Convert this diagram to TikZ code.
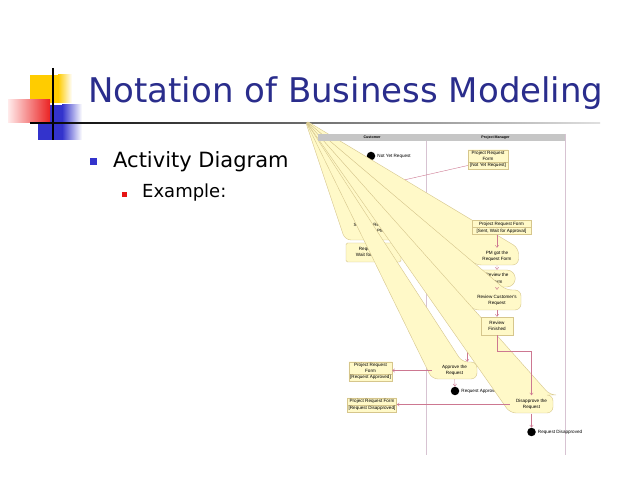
\documentclass[tikz,border=0pt]{standalone}
\usepackage{fontspec}
\setmainfont{DejaVu Sans}
\newfontfamily\umlfont{Liberation Sans}
\usetikzlibrary{arrows.meta,positioning,shapes.multipart,shapes.misc}

\definecolor{titleblue}{RGB}{42,45,140}
\definecolor{bulletblue}{RGB}{51,51,204}
\definecolor{bulletred}{RGB}{230,20,20}
\definecolor{decoyellow}{RGB}{255,204,0}
\definecolor{decored}{RGB}{235,35,35}
\definecolor{decoblue}{RGB}{51,51,204}
\definecolor{notefill}{RGB}{255,249,200}
\definecolor{noteline}{RGB}{214,198,140}
\definecolor{flowpink}{RGB}{205,120,145}
\definecolor{lanegray}{RGB}{215,195,210}

\begin{document}
\begin{tikzpicture}[x=1pt, y=-1pt,
    wedge/.style={fill=notefill, draw=noteline, line width=0.4pt, rounded corners=6pt},
    act/.style={inner sep=0pt, minimum height=17pt, font=\umlfont\fontsize{4.6}{6.3}\selectfont, align=center},
    actbox/.style={act, draw=noteline, fill=notefill, line width=0.4pt, rounded rectangle, rounded rectangle left arc=none},
    obj/.style={draw=noteline, fill=notefill, line width=0.4pt, inner sep=1.2pt, font=\umlfont\fontsize{4.6}{6.3}\selectfont, align=center},
    objsplit/.style={obj, rectangle split, rectangle split parts=2},
    startdot/.style={circle, fill=black, minimum size=8.5pt, inner sep=0pt},
    lbl/.style={inner sep=0.8pt, font=\umlfont\fontsize{4.6}{6}\selectfont},
    flow/.style={draw=flowpink, line width=0.4pt, -{Straight Barb[length=2.2pt,width=3.4pt]}},
    link/.style={draw=flowpink, line width=0.4pt},
    lane/.style={draw=lanegray, line width=0.6pt},
    lanehead/.style={fill=gray!45, minimum height=7pt, inner sep=0pt, font=\umlfont\bfseries\fontsize{3.6}{4}\selectfont}
]
\useasboundingbox[fill=white] (0,0) rectangle (638,478);

% title decoration
\fill[decoyellow] (30,75) rectangle (58,103);
\shade[left color=decoyellow, right color=white] (58,75) rectangle (72,103);
\fill[decoblue] (38,105) rectangle (62,140);
\shade[left color=decoblue, right color=white] (62,105) rectangle (82,140);
\shade[left color=red!8, right color=decored] (8,100) rectangle (50,123);
\draw[line width=1.3pt] (53,68) -- (53,140);
\shade[left color=black, right color=gray!25] (30,122.3) rectangle (600,123.8);

% title and bullets
\node[anchor=base west, inner sep=0pt, text=titleblue, font=\fontsize{34}{40}\selectfont] (title) at (88,103) {Notation of Business Modeling};
\node[fill=bulletblue, minimum size=7pt, inner sep=0pt] (bulletone) at (93.5,161.5) {};
\node[anchor=base west, inner sep=0pt, font=\fontsize{21}{25}\selectfont] (itemone) at (113,168) {Activity Diagram};
\node[fill=bulletred, minimum size=5pt, inner sep=0pt] (bullettwo) at (124.5,194.5) {};
\node[anchor=base west, inner sep=0pt, font=\fontsize{18}{22}\selectfont] (itemtwo) at (142,198) {Example:};

% swimlanes
\draw[lane] (426,141) -- (426,455);
\draw[lane] (565,134) -- (565,455);
\coordinate (apex) at (305,120);

% start
\node[startdot] (start) at (371,156) {};
\node[lbl, right=1pt of start] (startlbl) {Not Yet Request};
\node[objsplit, minimum width=40pt] (objnyr) at (488,159.5) {Project Request\\Form \nodepart{two} [Not Yet Request]};
\coordinate (nyrend) at (360,190);
\draw[link] ([yshift=-6pt]objnyr.west) -- (nyrend);

% customer
\filldraw[wedge] (apex) -- (410,216) -- (410,240) -- (345,240) -- cycle;
\node[act, minimum width=65pt, minimum height=24pt] (send) at (372,228) {Send the Request\\Form to PM};
\node[obj, minimum width=55pt, minimum height=19pt, rounded corners=1.5pt] (reqwait) at (373.5,252.5) {Request Sent,\\Wait for Approval};

% project manager
\filldraw[wedge] (apex) -- (518.5,248) -- (518.5,265) -- (475.5,265) -- cycle;
\node[act, minimum width=43pt] (pmgot) at (497,256.5) {PM got the\\Request Form};
\node[objsplit, minimum width=59pt] (objsent) at (501.5,227.5) {Project Request Form \nodepart{two} [Sent, Wait for Approval]};
\draw[flow] (objsent.south -| pmgot.north) -- (pmgot.north);

\node[actbox, minimum width=35pt] (revform) at (497,278.5) {Review the\\Form};
\draw[flow] (pmgot) -- (revform);

\filldraw[wedge] (apex) -- (506,290) -- (521,290) -- (521,310) -- (473,310) -- cycle;
\node[act, minimum width=48pt, minimum height=20pt] (revcust) at (497,300) {Review Customer's\\Request};
\draw[flow] (revform) -- (revcust);

\filldraw[wedge] (apex) -- (462,362) -- (477,362) -- (477,379) -- (432,379) -- cycle;
\node[act, minimum width=45pt] (approve) at (454.5,370.5) {Approve the\\Request};
\node[startdot] (enda) at (455,391) {};
\node[lbl, right=1pt of enda] (endalbl) {Request Approved};
\draw[flow] (approve) -- (enda);
\coordinate (split) at (497,351);
\draw[flow] (split) -| ([xshift=-10pt]approve.north east);

\filldraw[wedge] (apex) -- (550,395) -- (553,395) -- (553,413) -- (510,413) -- cycle;
\node[act, minimum width=43pt, minimum height=18pt] (disappr) at (531.5,404.5) {Disapprove the\\Request};
\draw[flow] (split) -| (disappr.north);
\node[startdot] (endd) at (531.5,432) {};
\node[lbl, right=1pt of endd] (enddlbl) {Request Disapproved};
\draw[flow] (disappr) -- (endd);

\node[obj, minimum width=32pt, minimum height=18pt] (revfin) at (497,326) {Review\\Finished};
\draw[flow] (revcust) -- (revfin);
\draw[link] (revfin) -- (split);

% result objects
\node[objsplit, minimum width=43pt] (objappr) at (370.5,371.5) {Project Request\\Form \nodepart{two} [Request Approved]};
\node[objsplit, minimum width=48pt] (objdis) at (372,405) {Project Request Form \nodepart{two} [Request Disapproved]};
\draw[flow] (approve.west) -- (approve.west -| objappr.east);
\draw[flow] (disappr.west) -- (disappr.west -| objdis.east);

% lane heads
\node[lanehead, minimum width=108pt] (lanecust) at (372,137.5) {Customer};
\node[lanehead, minimum width=139pt] (lanepm) at (495.5,137.5) {Project Manager};

\end{tikzpicture}
\end{document}
